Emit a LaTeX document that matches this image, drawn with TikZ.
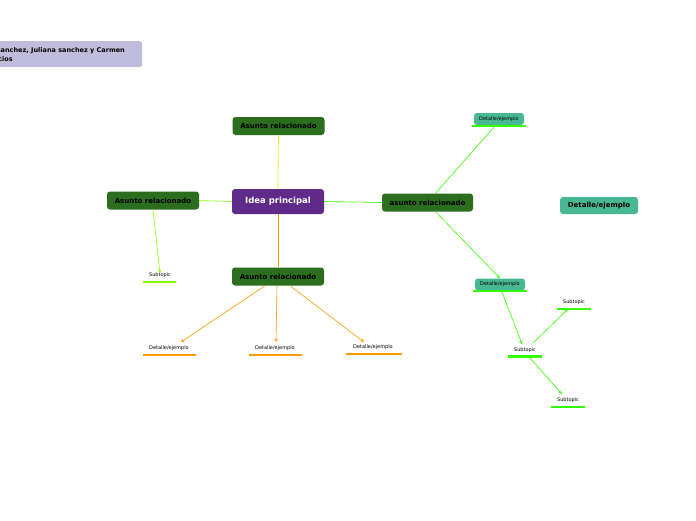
\documentclass[tikz,border=0pt]{standalone}
\usepackage{fontspec}
\setmainfont{DejaVu Sans}
\begin{document}
\begin{tikzpicture}[x=1pt,y=-1pt,
 box/.style={rounded corners=3pt,inner sep=0pt,font=\bfseries\fontsize{7}{8}\selectfont},
 main/.style={box,fill=mainc,text=white,minimum width=92pt,minimum height=25pt,font=\bfseries\fontsize{8.5}{10}\selectfont},
 asunto/.style={box,fill=asc,text=black,minimum width=92pt,minimum height=18pt},
 det/.style={box,fill=detc,minimum width=50pt,minimum height=12pt,font=\fontsize{5}{6}\selectfont},
 sub/.style={inner sep=1pt,font=\fontsize{5}{6}\selectfont},
 tt/.style={inner sep=0pt,anchor=base east,font=\bfseries\fontsize{6.5}{9}\selectfont},
 ul/.style={line width=2.2pt},
 arr/.style={->,>=stealth,line width=0.6pt}]
\definecolor{mainc}{HTML}{5F2A8A}
\definecolor{asc}{HTML}{2A6E1E}
\definecolor{detc}{HTML}{48B894}
\definecolor{titc}{HTML}{C0BCDE}
\definecolor{og}{HTML}{FF9900}
\definecolor{gr}{HTML}{33FF00}
\definecolor{lg}{HTML}{88FF00}
\path[use as bounding box,fill=white] (0,0) rectangle (696,520);
\begin{scope}
\clip (0,0) rectangle (696,520);
\node[box,fill=titc,minimum width=170pt,minimum height=26pt,anchor=north west] (tit) at (-28,41) {};
\node[tt] (tl1) at (125,52) {Paula sanchez, Juliana sanchez y Carmen};
\node[tt] (tl2) at (13,61) {Palacios};
\end{scope}
\node[main] (m) at (278,201.5) {Idea principal};
\node[asunto] (t) at (278.5,126) {Asunto relacionado};
\node[asunto] (l) at (153,200.5) {Asunto relacionado};
\node[asunto] (b) at (278,276.5) {Asunto relacionado};
\node[asunto,minimum width=91pt] (r) at (427.5,202.5) {asunto relacionado};
\node[det] (d1) at (499,119) {Detalle/ejemplo};
\node[det,minimum width=78pt,minimum height=17pt,font=\bfseries\fontsize{7}{8}\selectfont] (d2) at (599,205.5) {Detalle/ejemplo};
\node[det] (d3) at (500,284.5) {Detalle/ejemplo};
\draw[gr,ul] (472,126) -- (526,126);
\draw[gr,ul] (473,291) -- (527,291);
\node[sub] (s1) at (525,350) {Subtopic};
\draw[gr,ul] (508,356.5) -- (542,356.5);
\node[sub] (s2) at (574,302) {Subtopic};
\draw[gr,ul] (557,309) -- (591,309);
\node[sub] (s3) at (568,400) {Subtopic};
\draw[gr,ul] (551,407) -- (585,407);
\node[sub] (s4) at (160,275) {Subtopic};
\draw[lg,ul] (143,282) -- (176,282);
\node[sub] (e1) at (169,348) {Detalle/ejemplo};
\draw[og,ul] (143,355) -- (196,355);
\node[sub] (e2) at (275,348) {Detalle/ejemplo};
\draw[og,ul] (249,355) -- (302,355);
\node[sub] (e3) at (373,347) {Detalle/ejemplo};
\draw[og,ul] (346,354) -- (402,354);
\draw[yellow!90!orange,line width=0.6pt] (t.south) -- (m.north);
\draw[lg,line width=0.6pt] (l.east) -- (m.west);
\draw[gr,line width=0.6pt] (m.east) -- (r.west);
\draw[og,line width=0.6pt] (m.south) -- (b.north);
\draw[lg,arr] (l.south) -- ([yshift=-2pt]s4.north);
\draw[og,arr] ([xshift=-13pt]b.south) -- (181,342);
\draw[og,arr] ([xshift=-1pt]b.south) -- (276,342);
\draw[og,arr] ([xshift=12pt]b.south) -- (364,342);
\draw[gr,line width=0.6pt] ([xshift=8pt]r.north) -- (494,127);
\draw[gr,arr] ([xshift=8pt]r.south) -- (d3.north);
\draw[gr,arr] (502,292) -- (522,344);
\draw[gr,arr] (533,343) -- (568,309);
\draw[gr,arr] (529,357) -- (562,394);
\end{tikzpicture}
\end{document}
